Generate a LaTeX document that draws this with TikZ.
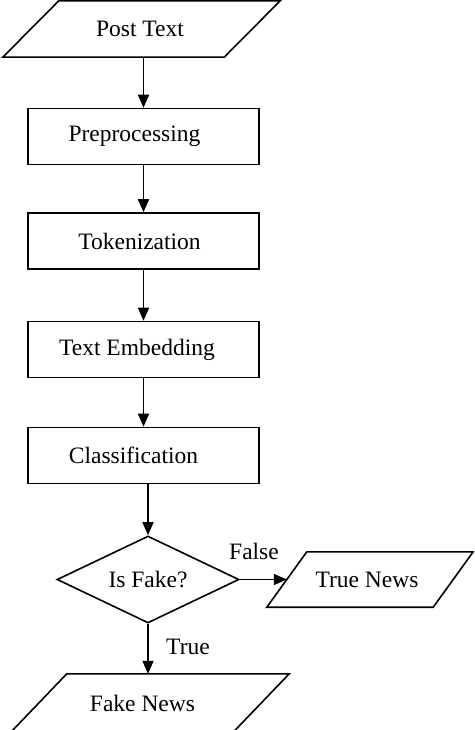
\documentclass[tikz,border=0pt]{standalone}
\usepackage{fontspec}
\setmainfont{Liberation Serif}
\usetikzlibrary{arrows.meta,calc,shapes.geometric}
\tikzset{
  ln/.style={line width=1.6pt, line join=miter},
  arr/.style={ln, -{Triangle[length=13pt,width=11pt]}},
  stepbox/.style={draw, ln, rectangle, minimum width=231pt, minimum height=56pt, inner sep=0pt},
  parabox/.style={rectangle, inner sep=0pt},
  decision/.style={draw, ln, diamond, aspect=2, minimum width=182pt, minimum height=87pt, inner sep=0pt},
  every node/.style={font=\fontsize{23.5}{28}\selectfont},
}
\newcommand\paraoutline[2]{%
  \draw[ln] ($(#1.south west)+(-#2,0)$) -- ($(#1.south east)+(-#2,0)$)
    -- ($(#1.north east)+(#2,0)$) -- ($(#1.north west)+(#2,0)$) -- cycle;}
\begin{document}
\begin{tikzpicture}[x=1pt,y=-1pt]
\useasboundingbox (0,0) rectangle (474,730);
\fill[white] (0,0) rectangle (474,730);
\clip (0,0) rectangle (474,730);

\node[parabox, minimum width=221pt, minimum height=56pt] (pt) at (141.5,29) {Post Text\hspace*{3pt}};
\paraoutline{pt}{28}

\node[stepbox] (pre) at (143.5,136.5) {Preprocessing\hspace*{18pt}};
\node[stepbox] (tok) at (143.5,241) {Tokenization\hspace*{8pt}};
\node[stepbox] (emb) at (143.5,349.5) {Text Embedding\hspace*{13pt}};
\node[stepbox] (cls) at (143.5,455.5) {Classification\hspace*{20pt}};

\node[decision] (dia) at (148,579.5) {Is Fake?};

\node[parabox, minimum width=166pt, minimum height=55pt] (tn) at (370,579.5) {True News\hspace*{6pt}};
\paraoutline{tn}{20}

\node[parabox, minimum width=222pt, minimum height=58pt] (fn) at (150,703) {Fake News\hspace*{15pt}};
\paraoutline{fn}{28}

\node (lf) at (254,551) {False};
\node (lt) at (188,647) {True};

\draw[arr] (pt.south -| pre.north) -- (pre.north);
\draw[arr] (pre.south) -- (tok.north);
\draw[arr] (tok.south) -- (emb.north);
\draw[arr] (emb.south) -- (cls.north);
\draw[arr] (cls.south -| dia.north) -- (dia.north);
\draw[arr] (dia.east) -- (tn.west);
\draw[arr] (dia.south) -- (dia.south |- fn.north);
\end{tikzpicture}
\end{document}
